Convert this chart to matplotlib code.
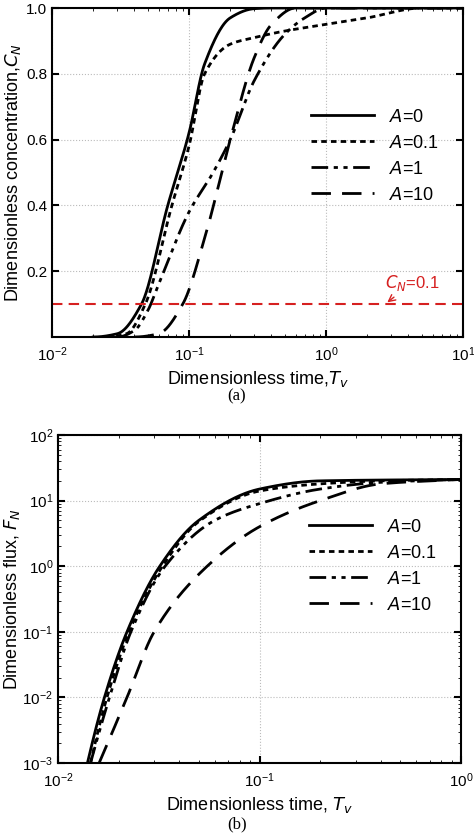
import numpy as np
import matplotlib
matplotlib.use("Agg")
import matplotlib.pyplot as plt

labels = ["A=0", "A=0.1", "A=1", "A=10"]
# panel (a)
ta = [
 [0.02,0.03,0.045,0.07,0.1,0.13,0.2,0.3,0.4,10],
 [0.025,0.035,0.048,0.075,0.1,0.13,0.2,0.3,0.5,1,2,5,10],
 [0.03,0.04,0.05,0.06,0.1,0.15,0.2,0.3,0.5,0.7,1,10],
 [0.04,0.06,0.09,0.13,0.2,0.3,0.4,0.6,10],
]
ca = [
 [0,0.01,0.1,0.4,0.62,0.83,0.97,0.998,1.0,1.0],
 [0,0.01,0.1,0.4,0.58,0.8,0.89,0.91,0.93,0.95,0.97,1.0,1.0],
 [0,0.02,0.08,0.16,0.38,0.5,0.6,0.78,0.92,0.97,1.0,1.0],
 [0,0.01,0.1,0.3,0.6,0.85,0.95,1.0,1.0],
]
# panel (b)
tb = [
 [0.014,0.017,0.022,0.032,0.05,0.1,0.2,1],
 [0.0145,0.0175,0.0225,0.033,0.05,0.1,0.2,0.4,1],
 [0.0145,0.018,0.023,0.034,0.06,0.1,0.2,0.4,1],
 [0.016,0.022,0.03,0.055,0.1,0.2,0.4,1],
]
fb = [
 [1e-3,1e-2,0.1,1,5,15,20,21],
 [1e-3,1e-2,0.1,1,4.8,14,18,20,21],
 [1e-3,1e-2,0.1,1,5,9,15,19,21],
 [1e-3,1e-2,0.1,1,4,10,18,21],
]
styles = ['-', (0,(2,1.5)), (0,(6,2,1.5,2,1.5,2)), (0,(7,4))]

plt.rcParams['font.family'] = ['Liberation Sans', 'DejaVu Sans']
fig = plt.figure(figsize=(4.74, 8.35), dpi=100)
ax1 = fig.add_axes([52/474, 1-337/835, 411/474, 329/835])
ax2 = fig.add_axes([58/474, 1-763/835, 403/474, 328/835])

def pchip(x, y, xs):
    h = np.diff(x); d = np.diff(y) / h
    n = len(x); m = np.zeros(n)
    for i in range(1, n-1):
        if d[i-1]*d[i] > 0:
            w1 = 2*h[i] + h[i-1]; w2 = h[i] + 2*h[i-1]
            m[i] = (w1 + w2) / (w1/d[i-1] + w2/d[i])
    m[0] = d[0]; m[-1] = d[-1]
    if n > 2:
        m[0] = max(0, ((2*h[0]+h[1])*d[0] - h[0]*d[1])/(h[0]+h[1])) if d[0] > 0 else 0
        m[-1] = 0 if d[-1] == 0 else d[-1]
    idx = np.clip(np.searchsorted(x, xs) - 1, 0, n-2)
    t = (xs - x[idx]) / h[idx]
    h00 = 2*t**3 - 3*t**2 + 1; h10 = t**3 - 2*t**2 + t
    h01 = -2*t**3 + 3*t**2; h11 = t**3 - t**2
    return h00*y[idx] + h10*h[idx]*m[idx] + h01*y[idx+1] + h11*h[idx]*m[idx+1]

def smooth(x, y, log_y=False):
    lx = np.log10(x)
    xs = np.linspace(lx[0], lx[-1], 600)
    yy = np.log10(y) if log_y else np.array(y, float)
    ys = pchip(lx, yy, xs)
    return 10**xs, (10**ys if log_y else ys)

for t, c, ls, lab in zip(ta, ca, styles, labels):
    x, y = smooth(np.array(t), np.array(c))
    ax1.plot(x, y, color='black', lw=2, linestyle=ls, label='$\\it{A}$=' + lab[2:])
ax1.axhline(0.1, color='#d62020', lw=1.5, linestyle=(0,(5,3)))
ax1.annotate('$C_N$=0.1', xy=(2.7, 0.1), xytext=(2.7, 0.15), color='#d62020', fontsize=12,
             arrowprops=dict(arrowstyle='->', color='#d62020', lw=1))
ax1.set_xscale('log')
ax1.set_xlim(0.01, 10)
ax1.set_ylim(0, 1.0)
ax1.set_yticks([0.2,0.4,0.6,0.8,1.0])
ax1.set_yticklabels(['0.2','0.4','0.6','0.8','1.0'])
ax1.set_xlabel('Dimensionless time,$T_v$', fontsize=13)
ax1.set_ylabel('Dimensionless concentration,$C_N$', fontsize=13, labelpad=2)
ax1.legend(loc='center right', bbox_to_anchor=(0.98, 0.55), frameon=False, fontsize=13, handlelength=3.5)
fig.text(0.5, 1-400/835, '(a)', ha='center', fontsize=12, family='Liberation Serif')

for t, f, ls, lab in zip(tb, fb, styles, labels):
    x, y = smooth(np.array(t), np.array(f), log_y=True)
    ax2.plot(x, y, color='black', lw=2, linestyle=ls, label='$\\it{A}$=' + lab[2:])
ax2.set_xscale('log'); ax2.set_yscale('log')
ax2.set_xlim(0.01, 1); ax2.set_ylim(1e-3, 1e2)
ax2.set_xlabel('Dimensionless time, $T_v$', fontsize=13)
ax2.set_ylabel('Dimensionless flux, $F_N$', fontsize=13, labelpad=0)
ax2.legend(loc='center right', bbox_to_anchor=(0.98, 0.6), frameon=False, fontsize=13, handlelength=3.5)
fig.text(0.5, 1-828/835, '(b)', ha='center', fontsize=12, family='Liberation Serif')

for ax in (ax1, ax2):
    ax.grid(True, which='major', color='#bbbbbb', linestyle=':', lw=0.8)
    ax.tick_params(which='both', direction='in', top=True, right=True, labelsize=11)
    ax.tick_params(which='major', length=5, width=1.5)
    ax.tick_params(axis='x', which='major', pad=6)
    for s in ax.spines.values():
        s.set_linewidth(1.5)

fig.savefig('out.png', dpi=100)
